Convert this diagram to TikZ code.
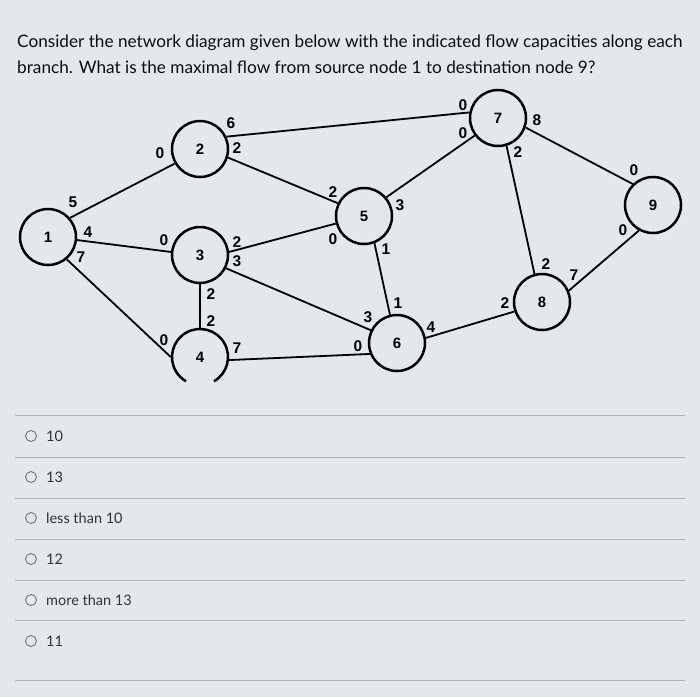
\documentclass[tikz,border=0pt]{standalone}
\usepackage{fontspec}
\setmainfont{Lato}
\newfontfamily\netfont{Liberation Sans}
\usetikzlibrary{positioning}
\definecolor{screen}{HTML}{E3E8EC}

\begin{document}
\begin{tikzpicture}[x=1pt,y=1pt,
    vertex/.style={circle,draw=black,line width=2.5pt,minimum size=56pt,inner sep=0pt,font=\netfont\bfseries\fontsize{15}{15}\selectfont},
    capacity/.style={inner sep=0pt,font=\netfont\bfseries\fontsize{15.5}{15.5}\selectfont},
    branch/.style={line width=1.8pt},
    question/.style={anchor=base west,inner sep=0pt,text=black!95,font=\fontsize{17.2}{17.2}\selectfont},
    choice/.style={inner sep=0pt,text=black!80,font=\fontsize{14.5}{14.5}\selectfont},
    radio/.style={circle,draw=black!55,line width=0.9pt,minimum size=11pt,inner sep=0pt},
    rule/.style={draw=black!30,line width=0.6pt}]

    % Background of the screen
    \fill[screen] (0,0) rectangle (700,-697);
    \useasboundingbox (0,0) rectangle (700,-697);

    % The question
    \node[question] (q1) at (17,-47) {Consider the network diagram given below with the indicated flow capacities along each};
    \node[question] (q2) at (17,-73) {branch. What is the maximal flow from source node 1 to destination node 9?};

    % Place the nodes
    \node[vertex] (n1) at (48,-237) {1};
    \node[vertex] (n2) at (200,-149) {2};
    \node[vertex] (n3) at (200,-255) {3};
    \node[vertex,draw=none] (n4) at (200,-357) {4};
    \node[vertex] (n5) at (364,-216) {5};
    \node[vertex] (n6) at (397,-343) {6};
    \node[vertex] (n7) at (498,-118) {7};
    \node[vertex] (n8) at (542,-302) {8};
    \node[vertex] (n9) at (653,-205) {9};

    % Node 4 is left open at the bottom
    \draw[line width=2.5pt] ([shift={(300:28pt)}]n4.center) arc[start angle=300,end angle=600,radius=28pt];

    % Draw the lines
    \draw[branch] (n1.41) -- (n2.210);
    \draw[branch] (n1.-6) -- (n3.174);
    \draw[branch] (n1.-50) -- (n4.180);
    \draw[branch] (n2.25) -- (n7.169);
    \draw[branch] (n2.-17) -- (n5.154);
    \draw[branch] (n3.6) -- (n5.195);
    \draw[branch] (n3.-27) -- (n6.154);
    \draw[branch] (n3.south) -- (n4.north);
    \draw[branch] (n4.-6) -- (n6.202);
    \draw[branch] (n5.40) -- (n7.217);
    \draw[branch] (n5.-69) -- (n6.104);
    \draw[branch] (n7.-19) -- (n9.134);
    \draw[branch] (n7.-73) -- (n8.105);
    \draw[branch] (n6.10) -- (n8.199);
    \draw[branch] (n8.23) -- (n9.241);

    % Then the capacities
    \node[capacity] (c12) at (73,-202) {5};
    \node[capacity] (c21) at (160,-153) {0};
    \node[capacity] (c13) at (88,-232) {4};
    \node[capacity] (c31) at (164,-240) {0};
    \node[capacity] (c14) at (81,-257) {7};
    \node[capacity] (c41) at (164,-340) {0};
    \node[capacity] (c27) at (231,-123) {6};
    \node[capacity] (c72) at (463,-105) {0};
    \node[capacity] (c25) at (237,-148) {2};
    \node[capacity] (c52) at (333,-192) {2};
    \node[capacity] (c35) at (237,-242) {2};
    \node[capacity] (c53) at (333,-239) {0};
    \node[capacity] (c36) at (237,-261) {3};
    \node[capacity] (c63) at (368,-317) {3};
    \node[capacity] (c34) at (211,-294) {2};
    \node[capacity] (c43) at (211,-321) {2};
    \node[capacity] (c46) at (237,-348) {7};
    \node[capacity] (c64) at (358,-346) {0};
    \node[capacity] (c57) at (400,-205) {3};
    \node[capacity] (c75) at (463,-133) {0};
    \node[capacity] (c56) at (386,-249) {1};
    \node[capacity] (c65) at (398,-303) {1};
    \node[capacity] (c79) at (537,-120) {8};
    \node[capacity] (c97) at (634,-170) {0};
    \node[capacity] (c78) at (518,-152) {2};
    \node[capacity] (c87) at (546,-264) {2};
    \node[capacity] (c68) at (431,-327) {4};
    \node[capacity] (c86) at (505,-303) {2};
    \node[capacity] (c89) at (574,-275) {7};
    \node[capacity] (c98) at (623,-230) {0};

    % The answers
    \draw[rule] (15,-415) -- (685,-415);
    \draw[rule] (15,-457) -- (685,-457);
    \draw[rule] (15,-498) -- (685,-498);
    \draw[rule] (15,-539) -- (685,-539);
    \draw[rule] (15,-580) -- (685,-580);
    \draw[rule] (15,-620) -- (685,-620);
    \draw[rule] (15,-680) -- (685,-680);

    \node[radio] (r1) at (31,-436) {};
    \node[radio] (r2) at (31,-477) {};
    \node[radio] (r3) at (31,-518) {};
    \node[radio] (r4) at (31,-559) {};
    \node[radio] (r5) at (31,-600) {};
    \node[radio] (r6) at (31,-641) {};
    \node[choice,right=9pt of r1] (a1) {10};
    \node[choice,right=9pt of r2] (a2) {13};
    \node[choice,right=9pt of r3] (a3) {less than 10};
    \node[choice,right=9pt of r4] (a4) {12};
    \node[choice,right=9pt of r5] (a5) {more than 13};
    \node[choice,right=9pt of r6] (a6) {11};

\end{tikzpicture}
\end{document}
